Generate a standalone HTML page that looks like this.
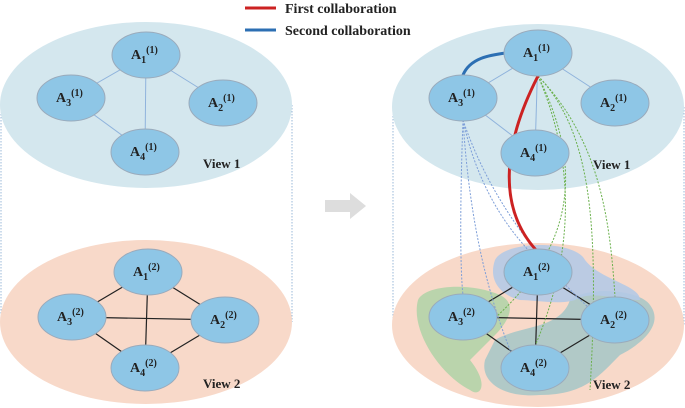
<!DOCTYPE html>
<html><head><meta charset="utf-8"><style>
html,body{margin:0;padding:0;background:#fff}
svg{display:block}
text{font-family:"Liberation Serif",serif;font-weight:bold;fill:#222}
</style></head><body>
<svg width="685" height="408" viewBox="0 0 685 408" xmlns="http://www.w3.org/2000/svg">
<defs>
<g id="n"><ellipse rx="34" ry="23" fill="#8ec6e6" stroke="#9aaabb" stroke-width="1"/></g>
</defs>
<!-- cylinder sides -->
<g stroke="#9ab8d8" stroke-width="1" stroke-dasharray="1.5,1.5">
<line x1="1" y1="105" x2="1" y2="322"/><line x1="292" y1="105" x2="292" y2="322"/>
<line x1="393" y1="107" x2="393" y2="325"/><line x1="684" y1="107" x2="684" y2="325"/>
</g>
<!-- big ellipses -->
<ellipse cx="146" cy="105" rx="146" ry="83" fill="#d4e7ee"/>
<ellipse cx="146" cy="322" rx="146" ry="82" fill="#f8d9c9"/>
<ellipse cx="538" cy="107" rx="146" ry="83" fill="#d4e7ee"/>
<ellipse cx="538" cy="325" rx="146" ry="82" fill="#f8d9c9"/>
<!-- legend -->
<line x1="245" y1="8" x2="276" y2="8" stroke="#cc2222" stroke-width="3"/>
<text x="285" y="13" font-size="14">First collaboration</text>
<line x1="245" y1="30" x2="276" y2="30" stroke="#2c6fb3" stroke-width="3"/>
<text x="285" y="35" font-size="14">Second collaboration</text>
<!-- arrow -->
<polygon points="325,200 350,200 350,193 366,206 350,219 350,212 325,212" fill="#dddddd"/>
<!-- left top edges -->
<g stroke="#8fb3dc" stroke-width="1">
<line x1="146" y1="55" x2="71" y2="98"/><line x1="146" y1="55" x2="223" y2="103"/>
<line x1="146" y1="55" x2="145" y2="152"/><line x1="71" y1="98" x2="145" y2="152"/>
</g>
<!-- left bottom edges -->
<g stroke="#222" stroke-width="1.2">
<line x1="148" y1="272" x2="72" y2="317"/><line x1="148" y1="272" x2="225" y2="320"/>
<line x1="148" y1="272" x2="145" y2="368"/><line x1="72" y1="317" x2="225" y2="320"/>
<line x1="72" y1="317" x2="145" y2="368"/><line x1="225" y1="320" x2="145" y2="368"/>
</g>
<!-- right blobs -->
<path d="M418,300 C425,285 470,282 500,295 C520,305 505,325 495,335 L470,360 C490,385 480,398 470,390 C440,375 410,330 418,300Z" fill="#b2d3a8" opacity="0.9"/>
<path d="M495,340 C520,325 560,330 570,300 C590,285 640,290 650,305 C665,325 640,345 620,355 C600,375 585,395 540,395 C500,398 480,380 485,360Z" fill="#a9c6c6" opacity="0.9"/>
<path d="M495,260 C505,240 575,240 585,260 C600,280 640,285 640,300 C620,300 590,290 575,300 C560,305 535,300 520,300 C500,295 488,280 495,260Z" fill="#b4c9e6" opacity="0.9"/>
<!-- right top edges -->
<g stroke="#8fb3dc" stroke-width="1">
<line x1="538" y1="53" x2="463" y2="98"/><line x1="538" y1="53" x2="615" y2="103"/>
<line x1="538" y1="53" x2="535" y2="153"/><line x1="463" y1="98" x2="535" y2="153"/>
</g>
<!-- right bottom edges -->
<g stroke="#222" stroke-width="1.2">
<line x1="538" y1="272" x2="463" y2="317"/><line x1="538" y1="272" x2="615" y2="320"/>
<line x1="538" y1="272" x2="535" y2="368"/><line x1="463" y1="317" x2="615" y2="320"/>
<line x1="463" y1="317" x2="535" y2="368"/><line x1="615" y1="320" x2="535" y2="368"/>
</g>
<!-- cross-view dotted -->
<g fill="none" stroke-width="1" stroke-dasharray="2,1.5">
<path d="M463,120 C460,200 460,270 463,295" stroke="#7d9ed8"/>
<path d="M463,120 C470,230 490,300 512,355" stroke="#7d9ed8"/>
<path d="M463,120 C480,200 520,240 528,250" stroke="#7d9ed8"/>
<path d="M463,120 C500,230 580,300 600,318" stroke="#7d9ed8"/>
<path d="M538,76 C590,130 600,220 590,390" stroke="#6ab04c"/>
<path d="M538,76 C600,140 610,220 615,297" stroke="#6ab04c"/>
<path d="M538,76 C570,150 580,240 535,346" stroke="#6ab04c"/>
<path d="M538,76 C580,160 580,240 496,317" stroke="#6ab04c"/>
</g>
<path d="M538,76 C500,150 500,210 536,250" fill="none" stroke="#cc2222" stroke-width="3"/>
<path d="M463,75 C470,58 490,55 506,53" fill="none" stroke="#2c6fb3" stroke-width="3"/>
<!-- nodes -->
<use href="#n" x="146" y="55"/><use href="#n" x="71" y="98"/><use href="#n" x="223" y="103"/><use href="#n" x="145" y="152"/>
<use href="#n" x="148" y="272"/><use href="#n" x="72" y="317"/><use href="#n" x="225" y="320"/><use href="#n" x="145" y="368"/>
<use href="#n" x="538" y="53"/><use href="#n" x="463" y="98"/><use href="#n" x="615" y="103"/><use href="#n" x="535" y="153"/>
<use href="#n" x="538" y="272"/><use href="#n" x="463" y="317"/><use href="#n" x="615" y="320"/><use href="#n" x="535" y="368"/>
<g font-size="14">
<text x="131" y="59">A<tspan font-size="10" dy="4">1</tspan><tspan font-size="10" dy="-10">(1)</tspan></text>
<text x="56" y="102">A<tspan font-size="10" dy="4">3</tspan><tspan font-size="10" dy="-10">(1)</tspan></text>
<text x="208" y="107">A<tspan font-size="10" dy="4">2</tspan><tspan font-size="10" dy="-10">(1)</tspan></text>
<text x="130" y="156">A<tspan font-size="10" dy="4">4</tspan><tspan font-size="10" dy="-10">(1)</tspan></text>
<text x="133" y="276">A<tspan font-size="10" dy="4">1</tspan><tspan font-size="10" dy="-10">(2)</tspan></text>
<text x="57" y="321">A<tspan font-size="10" dy="4">3</tspan><tspan font-size="10" dy="-10">(2)</tspan></text>
<text x="210" y="324">A<tspan font-size="10" dy="4">2</tspan><tspan font-size="10" dy="-10">(2)</tspan></text>
<text x="130" y="372">A<tspan font-size="10" dy="4">4</tspan><tspan font-size="10" dy="-10">(2)</tspan></text>
<text x="523" y="57">A<tspan font-size="10" dy="4">1</tspan><tspan font-size="10" dy="-10">(1)</tspan></text>
<text x="448" y="102">A<tspan font-size="10" dy="4">3</tspan><tspan font-size="10" dy="-10">(1)</tspan></text>
<text x="600" y="107">A<tspan font-size="10" dy="4">2</tspan><tspan font-size="10" dy="-10">(1)</tspan></text>
<text x="520" y="157">A<tspan font-size="10" dy="4">4</tspan><tspan font-size="10" dy="-10">(1)</tspan></text>
<text x="523" y="276">A<tspan font-size="10" dy="4">1</tspan><tspan font-size="10" dy="-10">(2)</tspan></text>
<text x="448" y="321">A<tspan font-size="10" dy="4">3</tspan><tspan font-size="10" dy="-10">(2)</tspan></text>
<text x="600" y="324">A<tspan font-size="10" dy="4">2</tspan><tspan font-size="10" dy="-10">(2)</tspan></text>
<text x="520" y="372">A<tspan font-size="10" dy="4">4</tspan><tspan font-size="10" dy="-10">(2)</tspan></text>
</g>
<g font-size="13">
<text x="203" y="168">View 1</text><text x="593" y="169">View 1</text>
<text x="203" y="388">View 2</text><text x="593" y="389">View 2</text>
</g>
</svg>
</body></html>
